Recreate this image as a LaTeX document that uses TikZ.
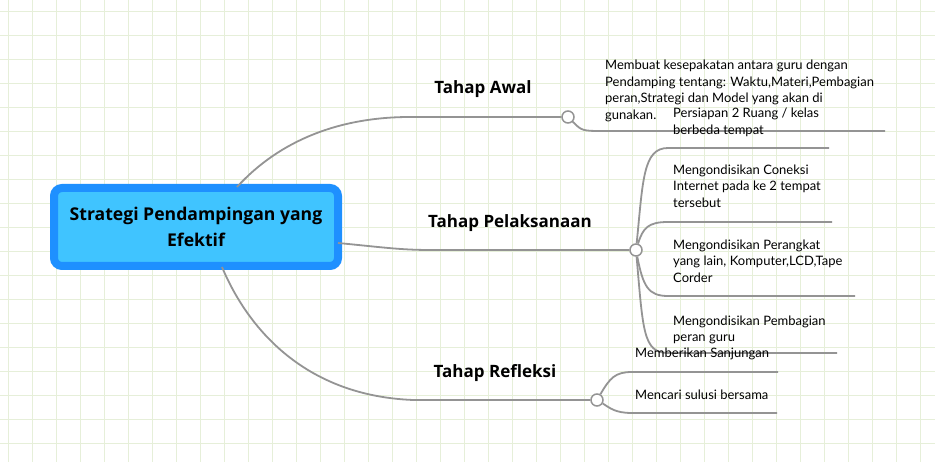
\documentclass[tikz,border=0pt]{standalone}
\usepackage{fontspec}
\setmainfont{Lato}
\newfontfamily\headfont{Open Sans}
\definecolor{gridc}{HTML}{E6EFD9}
\definecolor{brc}{HTML}{949494}
\definecolor{rootborder}{HTML}{1E90FF}
\definecolor{rootfill}{HTML}{40C4FF}
\tikzset{
  gridline/.style={draw=gridc, line width=1pt},
  br/.style={draw=brc, line width=1.8pt},
  hub/.style={circle, draw=brc, line width=1.5pt, fill=white, minimum size=12pt, inner sep=0pt},
  rootbox/.style={draw=rootborder, fill=rootfill, line width=8pt, rounded corners=8pt,
    minimum width=284pt, minimum height=78pt, inner sep=0pt, align=center,
    font=\headfont\fontsize{17.6}{26}\selectfont\bfseries},
  lbl/.style={font=\headfont\fontsize{17}{20}\selectfont\bfseries, inner sep=0pt},
  leaf/.style={font=\fontsize{13}{16.5}\selectfont, inner sep=0pt, align=left, anchor=base west}
}
\begin{document}
\begin{tikzpicture}[x=1pt,y=-1pt]
\useasboundingbox (0,0) rectangle (935,462);
\fill[white] (0,0) rectangle (935,462);
\foreach \x in {8,32,...,932} \draw[gridline] (\x,0) -- (\x,462);
\foreach \y in {11.5,35.5,...,460} \draw[gridline] (0,\y) -- (935,\y);

% root
\node[rootbox] (root) at (196,227) {Strategi Pendampingan yang\\Efektif};

% hubs
\node[hub] (c1) at (568,117) {};
\node[hub] (c2) at (636,250) {};
\node[hub] (c3) at (597,400) {};

% end coordinates
\coordinate (e1) at (885,131);
\coordinate (p1) at (829,148);
\coordinate (p2) at (832,222);
\coordinate (p3) at (855,296);
\coordinate (p4) at (837,353);
\coordinate (r1) at (778,372);
\coordinate (r2) at (777,413);

% main branches
\draw[br] ([xshift=41pt,yshift=-3pt]root.north) .. controls (280,140) and (340,117) .. (410,117) -- (c1);
\draw[br] ([yshift=-16pt,xshift=-4pt]root.east) .. controls (380,247) and (400,250) .. (430,250) -- (c2);
\draw[br] ([xshift=26pt,yshift=3pt]root.south) .. controls (240,310) and (290,395) .. (413,400) -- (c3);

% labels
\node[lbl] (la) at (483,89) {Tahap Awal};
\node[lbl] (lp) at (510,223) {Tahap Pelaksanaan};
\node[lbl] (lr) at (495,373) {Tahap Refleksi};

% sub branches
\draw[br] (c1) .. controls (582,131) .. (605,131) -- (e1);
\draw[br] (c2) .. controls (643,180) and (643,148) .. (668,148) -- (p1);
\draw[br] (c2) .. controls (643,228) and (648,222) .. (668,222) -- (p2);
\draw[br] (c2) .. controls (643,286) and (648,296) .. (668,296) -- (p3);
\draw[br] (c2) .. controls (643,330) and (643,353) .. (668,353) -- (p4);
\draw[br] (c3) .. controls (610,378) and (615,372) .. (632,372) -- (r1);
\draw[br] (c3) .. controls (610,408) and (615,413) .. (632,413) -- (r2);

% leaves (base = baseline of last line)
\node[leaf] (t1) at (605,119.5) {Membuat kesepakatan antara guru dengan\\Pendamping tentang: Waktu,Materi,Pembagian\\peran,Strategi dan Model yang akan di\\gunakan.};
\node[leaf] (t2) at (673,134.5) {Persiapan 2 Ruang / kelas\\berbeda tempat};
\node[leaf] (t3) at (673,207.5) {Mengondisikan Coneksi\\Internet pada ke 2 tempat\\tersebut};
\node[leaf] (t4) at (673,282.5) {Mengondisikan Perangkat\\yang lain, Komputer,LCD,Tape\\Corder};
\node[leaf] (t5) at (673,341.5) {Mengondisikan Pembagian\\peran guru};
\node[leaf] (t6) at (635,357.5) {Memberikan Sanjungan};
\node[leaf] (t7) at (635,399.5) {Mencari sulusi bersama};
\end{tikzpicture}
\end{document}
